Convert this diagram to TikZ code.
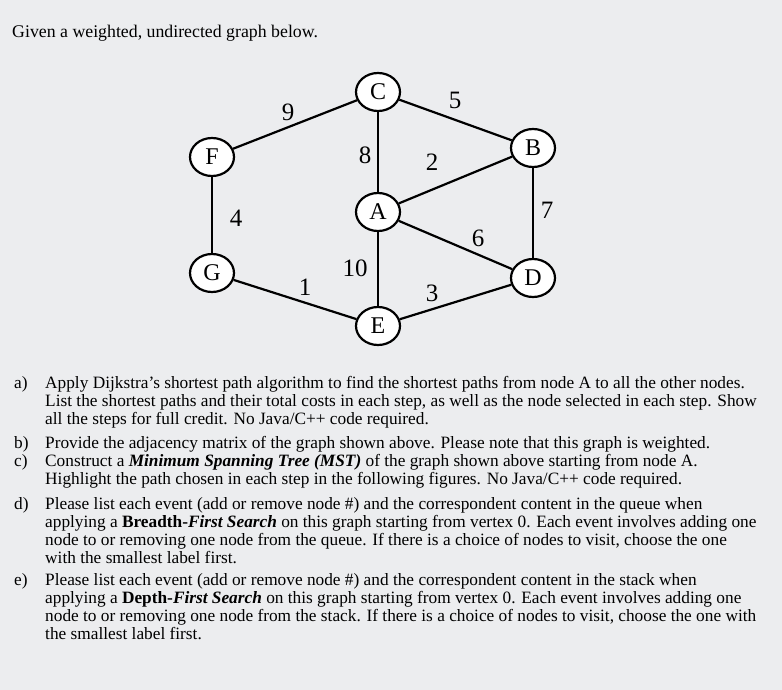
\documentclass[tikz,border=0pt]{standalone}
\usepackage{fontspec}
\setmainfont{Liberation Serif}
\usetikzlibrary{shapes.geometric}
\begin{document}
\begin{tikzpicture}[x=1pt,y=-1pt,
  vtx/.style={draw,line width=2.2pt,ellipse,minimum width=44pt,minimum height=38pt,inner sep=0pt,font=\fontsize{24}{24}\selectfont,fill=white},
  edge/.style={line width=2.2pt},
  wl/.style={font=\fontsize{25}{25}\selectfont},
  tx/.style={anchor=base west,inner sep=0pt,font=\fontsize{17.3}{17.3}\selectfont}]
\fill[color={rgb,255:red,236;green,237;blue,239}] (0,0) rectangle (782,690);
\useasboundingbox (0,0) rectangle (782,690);
\node[tx,font=\fontsize{17.8}{17.8}\selectfont] (title) at (12,38) {Given a weighted, undirected graph below.};
\node[vtx] (C) at (378,92) {C};
\node[vtx] (F) at (212,157) {F};
\node[vtx] (B) at (533,148) {B};
\node[vtx] (A) at (378,212) {A};
\node[vtx] (G) at (212,273) {G};
\node[vtx] (D) at (533,278) {D};
\node[vtx] (E) at (378,326) {E};
\draw[edge] (F) -- (C);
\draw[edge] (C) -- (B);
\draw[edge] (C) -- (A);
\draw[edge] (A) -- (B);
\draw[edge] (F) -- (G);
\draw[edge] (B) -- (D);
\draw[edge] (A) -- (D);
\draw[edge] (A) -- (E);
\draw[edge] (G) -- (E);
\draw[edge] (E) -- (D);
\node[wl] (w9) at (288,112) {9};
\node[wl] (w5) at (455,100) {5};
\node[wl] (w8) at (365,155) {8};
\node[wl] (w2) at (432,162) {2};
\node[wl] (w4) at (236,218) {4};
\node[wl] (w7) at (547,210) {7};
\node[wl] (w6) at (478,238) {6};
\node[wl] (w10) at (355,268) {10};
\node[wl] (w1) at (305,287) {1};
\node[wl] (w3) at (432,293) {3};
\foreach \n/\y/\s in {la/388/a), lb/448/b), lc/466/c), ld/509/d), le/585/e)}
  \node[tx] (\n) at (14,\y) {\s};
\node[tx] (a1) at (45,388) {Apply Dijkstra’s shortest path algorithm to find the shortest paths from node A to all the other nodes.};
\node[tx] (a2) at (45,406) {List the shortest paths and their total costs in each step, as well as the node selected in each step. Show};
\node[tx] (a3) at (45,424) {all the steps for full credit. No Java/C++ code required.};
\node[tx] (b1) at (45,448) {Provide the adjacency matrix of the graph shown above. Please note that this graph is weighted.};
\node[tx] (c1) at (45,466) {Construct a \textbf{\textit{Minimum Spanning Tree (MST)}} of the graph shown above starting from node A.};
\node[tx] (c2) at (45,484) {Highlight the path chosen in each step in the following figures. No Java/C++ code required.};
\node[tx] (d1) at (45,509) {Please list each event (add or remove node \#) and the correspondent content in the queue when};
\node[tx] (d2) at (45,527) {applying a \textbf{Breadth-\textit{First Search}} on this graph starting from vertex 0. Each event involves adding one};
\node[tx] (d3) at (45,545) {node to or removing one node from the queue. If there is a choice of nodes to visit, choose the one};
\node[tx] (d4) at (45,563) {with the smallest label first.};
\node[tx] (e1) at (45,585) {Please list each event (add or remove node \#) and the correspondent content in the stack when};
\node[tx] (e2) at (45,603) {applying a \textbf{Depth-\textit{First Search}} on this graph starting from vertex 0. Each event involves adding one};
\node[tx] (e3) at (45,621) {node to or removing one node from the stack. If there is a choice of nodes to visit, choose the one with};
\node[tx] (e4) at (45,639) {the smallest label first.};
\end{tikzpicture}
\end{document}
